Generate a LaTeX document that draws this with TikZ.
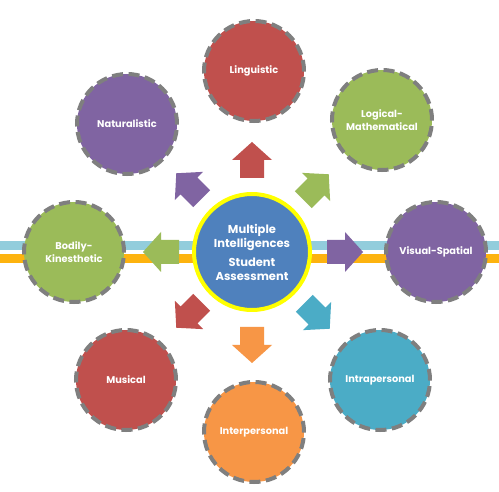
\documentclass[tikz,border=0pt]{standalone}
\usepackage{fontspec}
\setmainfont{Poppins}
\definecolor{cred}{HTML}{C0504D}
\definecolor{cgreen}{HTML}{9BBB59}
\definecolor{cpurple}{HTML}{8064A2}
\definecolor{cteal}{HTML}{4BACC6}
\definecolor{corange}{HTML}{F79646}
\definecolor{cblue}{HTML}{4F81BD}
\definecolor{dgray}{HTML}{7F7F7F}
\definecolor{bandblue}{HTML}{92CDDC}
\definecolor{bandorange}{HTML}{FDB30F}
\definecolor{ring}{HTML}{FFFF00}
\begin{document}
\begin{tikzpicture}[x=1pt,y=-1pt,
  circ/.style={circle, minimum size=100pt, inner sep=0pt, draw=dgray,
    line width=4pt, dash pattern=on 11pt off 5.5pt, text=white,
    font=\bfseries\fontsize{9.8}{13}\selectfont, align=center},
  hub/.style={circle, minimum size=116pt, inner sep=0pt, fill=cblue,
    draw=ring, line width=4pt, text=white,
    font=\bfseries\fontsize{11.5}{14}\selectfont, align=center},
  blockarrow/.style={fill=#1}
]
\useasboundingbox (0,0) rectangle (499,492);
\fill[white] (0,0) rectangle (499,492);
% horizontal bands
\fill[bandblue] (0,241) rectangle (499,250);
\fill[bandorange] (0,254) rectangle (499,263);

% outer circles
\node[circ, fill=cred]    (ling) at (254,71)  {Linguistic};
\node[circ, fill=cgreen]  (logi) at (382,120) {Logical-\\Mathematical};
\node[circ, fill=cpurple] (visu) at (436,252) {Visual-Spatial};
\node[circ, fill=cteal]   (intra) at (380,380) {Intrapersonal};
\node[circ, fill=corange] (inter) at (254,432) {Interpersonal};
\node[circ, fill=cred]    (musi) at (126,380) {Musical};
\node[circ, fill=cgreen]  (bodi) at (74,252)  {Bodily-\\Kinesthetic};
\node[circ, fill=cpurple] (natu) at (127,124) {Naturalistic};

% hub
\node[hub] (hubnode) at (252,252) {Multiple\\Intelligences\\[5pt]Student\\Assessment};

% arrow anchors
\coordinate (aN)  at (252,160);
\coordinate (aNE) at (316,187);
\coordinate (aE)  at (345,252);
\coordinate (aSE) at (317,316);
\coordinate (aS)  at (252,345);
\coordinate (aSW) at (189,315);
\coordinate (aW)  at (161,252);
\coordinate (aNW) at (189,186);

\foreach \pt/\ang/\col in {aN/90/cred, aNE/45/cgreen, aE/0/cpurple, aSE/-45/cteal,
  aS/-90/corange, aSW/-135/cred, aW/180/cgreen, aNW/135/cpurple}{
  \begin{scope}[shift={(\pt)}, rotate=\ang]
    \fill[blockarrow=\col] (-18,-12) -- (0,-12) -- (0,-20) -- (18,0) -- (0,20) -- (0,12) -- (-18,12) -- cycle;
  \end{scope}
}
\end{tikzpicture}
\end{document}
